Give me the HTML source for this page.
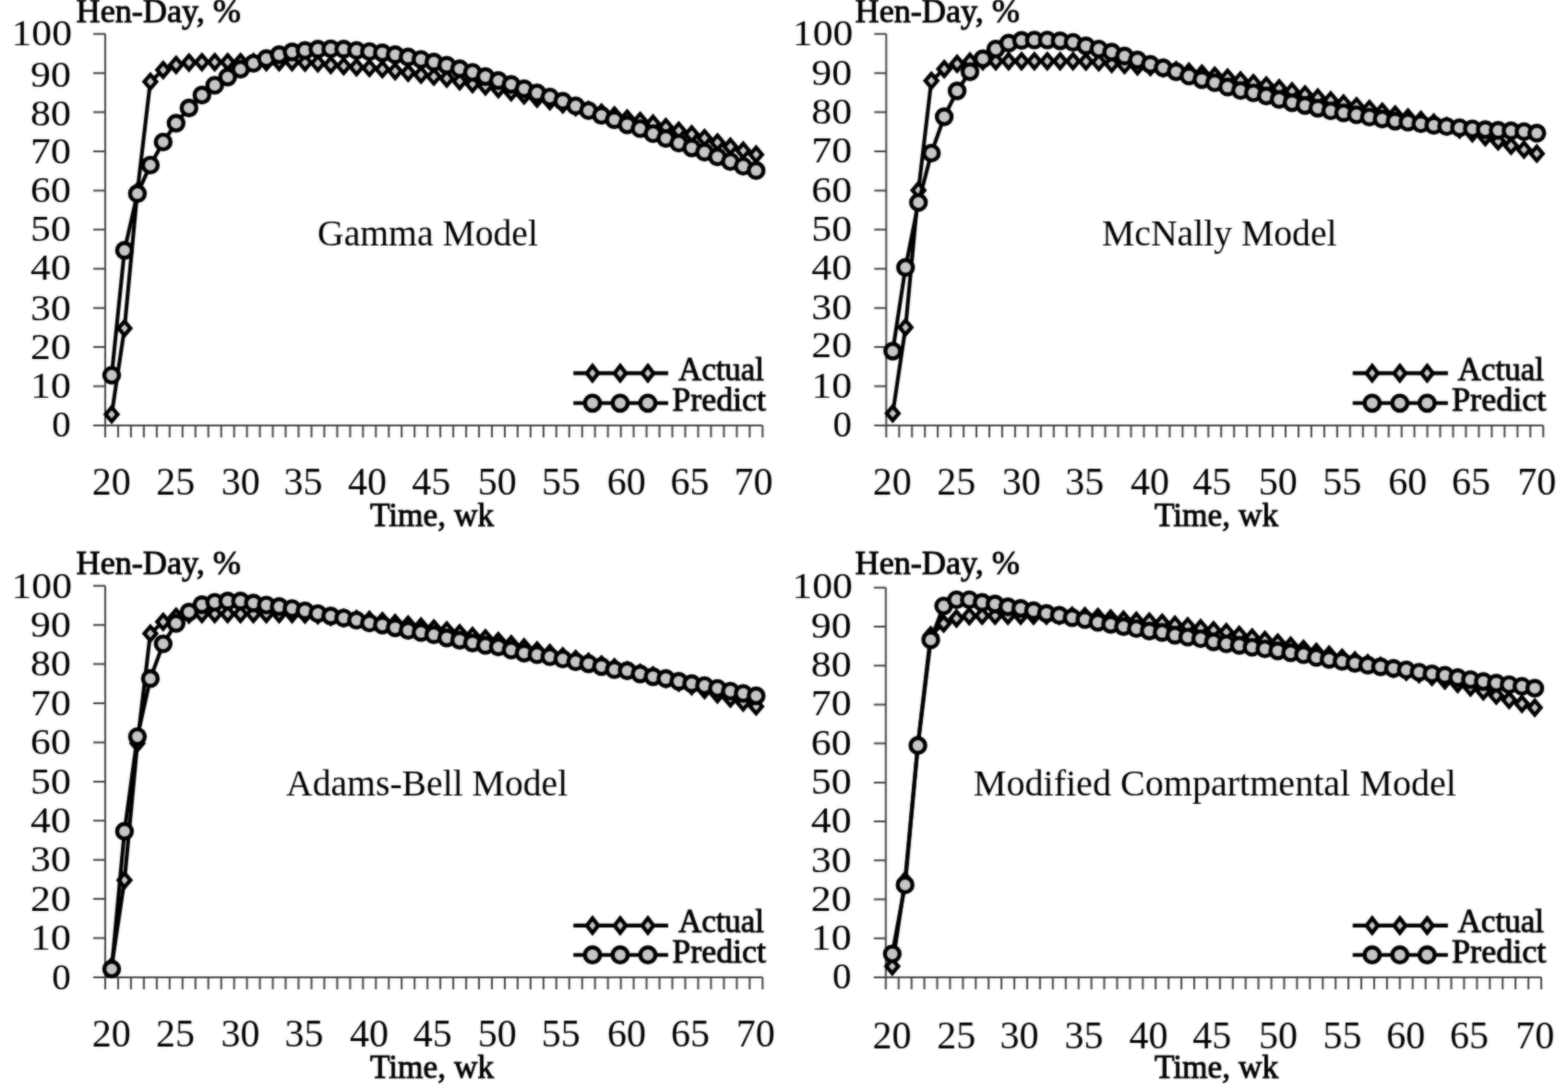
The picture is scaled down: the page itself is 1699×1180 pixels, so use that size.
<!DOCTYPE html>
<html lang="en">
<head>
<meta charset="utf-8">
<title>Hen-Day egg production: actual vs. predicted (Gamma, McNally, Adams-Bell, Modified Compartmental)</title>
<style>
html,body{margin:0;padding:0;background:#fff;}
body{width:1699px;height:1180px;overflow:hidden;}
svg{display:block;}
text{font-family:"Liberation Serif","Times New Roman",Times,serif;fill:#000;}
.n{fill:#000;}
.l{stroke:#000;stroke-width:0.9px;}
.t{fill:#000;}
.ax{fill:none;stroke:#444444;stroke-width:2px;}
.ln{fill:none;stroke:#000;stroke-width:4.1px;stroke-linejoin:round;}
.mk{fill:#c6c6c6;stroke:#000;stroke-width:4.4px;}
.dm{fill:#c6c6c6;stroke:#000;stroke-width:4.2px;}
</style>
</head>
<body>
<svg width="1699" height="1180" viewBox="0 0 1699 1180">
<defs><filter id="soft" x="0" y="0" width="100%" height="100%" filterUnits="userSpaceOnUse" color-interpolation-filters="sRGB"><feGaussianBlur in="SourceGraphic" stdDeviation="0.8" result="b"/><feComposite in="SourceGraphic" in2="b" operator="arithmetic" k1="0" k2="0.4" k3="0.6" k4="0"/></filter></defs>
<rect width="1699" height="1180" fill="#fff"/>
<g filter="url(#soft)">
<g id="chart1">
<path class="ax" d="M114 36.8L114 473.9M101 460.9L826.3 460.9M101 418.5L114 418.5M101 376.1L114 376.1M101 333.7L114 333.7M101 291.3L114 291.3M101 248.8L114 248.8M101 206.4L114 206.4M101 164L114 164M101 121.6L114 121.6M101 79.2L114 79.2M101 36.8L114 36.8M128 460.9L128 473.9M141.9 460.9L141.9 473.9M155.9 460.9L155.9 473.9M169.9 460.9L169.9 473.9M183.8 460.9L183.8 473.9M197.8 460.9L197.8 473.9M211.8 460.9L211.8 473.9M225.7 460.9L225.7 473.9M239.7 460.9L239.7 473.9M253.7 460.9L253.7 473.9M267.6 460.9L267.6 473.9M281.6 460.9L281.6 473.9M295.6 460.9L295.6 473.9M309.5 460.9L309.5 473.9M323.5 460.9L323.5 473.9M337.5 460.9L337.5 473.9M351.4 460.9L351.4 473.9M365.4 460.9L365.4 473.9M379.4 460.9L379.4 473.9M393.3 460.9L393.3 473.9M407.3 460.9L407.3 473.9M421.3 460.9L421.3 473.9M435.2 460.9L435.2 473.9M449.2 460.9L449.2 473.9M463.2 460.9L463.2 473.9M477.1 460.9L477.1 473.9M491.1 460.9L491.1 473.9M505.1 460.9L505.1 473.9M519 460.9L519 473.9M533 460.9L533 473.9M547 460.9L547 473.9M560.9 460.9L560.9 473.9M574.9 460.9L574.9 473.9M588.9 460.9L588.9 473.9M602.8 460.9L602.8 473.9M616.8 460.9L616.8 473.9M630.8 460.9L630.8 473.9M644.7 460.9L644.7 473.9M658.7 460.9L658.7 473.9M672.7 460.9L672.7 473.9M686.6 460.9L686.6 473.9M700.6 460.9L700.6 473.9M714.6 460.9L714.6 473.9M728.5 460.9L728.5 473.9M742.5 460.9L742.5 473.9M756.5 460.9L756.5 473.9M770.4 460.9L770.4 473.9M784.4 460.9L784.4 473.9M798.4 460.9L798.4 473.9M812.3 460.9L812.3 473.9M826.3 460.9L826.3 473.9"/>
<text x="56.3" y="473.3" font-size="41" textLength="20.5" lengthAdjust="spacingAndGlyphs" class="n">0</text>
<text x="33" y="430.9" font-size="41" textLength="43.8" lengthAdjust="spacingAndGlyphs" class="n">10</text>
<text x="33" y="388.8" font-size="41" textLength="43.8" lengthAdjust="spacingAndGlyphs" class="n">20</text>
<text x="33" y="346.5" font-size="41" textLength="43.8" lengthAdjust="spacingAndGlyphs" class="n">30</text>
<text x="33" y="303.4" font-size="41" textLength="43.8" lengthAdjust="spacingAndGlyphs" class="n">40</text>
<text x="33" y="261.2" font-size="41" textLength="43.8" lengthAdjust="spacingAndGlyphs" class="n">50</text>
<text x="33" y="219" font-size="41" textLength="43.8" lengthAdjust="spacingAndGlyphs" class="n">60</text>
<text x="33" y="176.7" font-size="41" textLength="43.8" lengthAdjust="spacingAndGlyphs" class="n">70</text>
<text x="33" y="136.4" font-size="41" textLength="43.8" lengthAdjust="spacingAndGlyphs" class="n">80</text>
<text x="33" y="94.1" font-size="41" textLength="43.8" lengthAdjust="spacingAndGlyphs" class="n">90</text>
<text x="12.5" y="49.2" font-size="41" textLength="65.5" lengthAdjust="spacingAndGlyphs" class="n">100</text>
<text x="99.8" y="535.8" font-size="42.5" textLength="42" lengthAdjust="spacingAndGlyphs" class="n">20</text>
<text x="169.3" y="535.8" font-size="42.5" textLength="42" lengthAdjust="spacingAndGlyphs" class="n">25</text>
<text x="239.8" y="535.8" font-size="42.5" textLength="42" lengthAdjust="spacingAndGlyphs" class="n">30</text>
<text x="307.5" y="535.8" font-size="42.5" textLength="42" lengthAdjust="spacingAndGlyphs" class="n">35</text>
<text x="377" y="535.8" font-size="42.5" textLength="42" lengthAdjust="spacingAndGlyphs" class="n">40</text>
<text x="446.2" y="535.8" font-size="42.5" textLength="42" lengthAdjust="spacingAndGlyphs" class="n">45</text>
<text x="517.7" y="535.8" font-size="42.5" textLength="42" lengthAdjust="spacingAndGlyphs" class="n">50</text>
<text x="586.9" y="535.8" font-size="42.5" textLength="42" lengthAdjust="spacingAndGlyphs" class="n">55</text>
<text x="657.8" y="535.8" font-size="42.5" textLength="42" lengthAdjust="spacingAndGlyphs" class="n">60</text>
<text x="726.5" y="535.8" font-size="42.5" textLength="42" lengthAdjust="spacingAndGlyphs" class="n">65</text>
<text x="795.5" y="535.8" font-size="42.5" textLength="42" lengthAdjust="spacingAndGlyphs" class="n">70</text>
<text x="82.5" y="23.5" font-size="35.5" textLength="178.5" lengthAdjust="spacingAndGlyphs" class="l">Hen-Day, %</text>
<text x="400.9" y="569.5" font-size="35.5" textLength="134.2" lengthAdjust="spacingAndGlyphs" class="l">Time, wk</text>
<text x="344" y="265.6" font-size="41" textLength="239" lengthAdjust="spacingAndGlyphs" class="t">Gamma Model</text>
<polyline class="ln" points="121,449 134.9,355.7 148.9,207.3 162.9,88.5 176.8,75.8 190.8,70.3 204.8,67.8 218.8,67.3 232.7,67.3 246.7,67.3 260.6,67.3 274.6,67.3 288.6,67.3 302.5,67.3 316.5,67.3 330.5,67.8 344.4,68.6 358.4,70.3 372.4,71.6 386.3,72.8 400.3,73.7 414.3,75 428.2,77.1 442.2,78.8 456.2,80.9 470.1,83 484.1,85.1 498.1,88.1 512,91.1 526,93.6 540,96.6 553.9,100 567.9,103.4 581.9,106.8 595.8,109.7 609.8,113.1 623.8,116.1 637.7,119.1 651.7,122 665.7,125 679.6,128.4 693.6,131 707.6,133.9 721.5,137.7 735.5,141.6 749.5,145.4 763.4,149.6 777.4,154.3 791.4,158.9 805.3,163.2 819.3,167.4"/>
<g class="dm"><path d="M121 441.4L127.5 449L121 456.6L114.5 449Z"/><path d="M134.9 348.1L141.4 355.7L134.9 363.3L128.4 355.7Z"/><path d="M148.9 199.7L155.4 207.3L148.9 214.9L142.4 207.3Z"/><path d="M162.9 80.9L169.4 88.5L162.9 96.1L156.4 88.5Z"/><path d="M176.8 68.2L183.3 75.8L176.8 83.4L170.3 75.8Z"/><path d="M190.8 62.7L197.3 70.3L190.8 77.9L184.3 70.3Z"/><path d="M204.8 60.2L211.3 67.8L204.8 75.4L198.3 67.8Z"/><path d="M218.8 59.7L225.2 67.3L218.8 74.9L212.2 67.3Z"/><path d="M232.7 59.7L239.2 67.3L232.7 74.9L226.2 67.3Z"/><path d="M246.7 59.7L253.2 67.3L246.7 74.9L240.2 67.3Z"/><path d="M260.6 59.7L267.1 67.3L260.6 74.9L254.1 67.3Z"/><path d="M274.6 59.7L281.1 67.3L274.6 74.9L268.1 67.3Z"/><path d="M288.6 59.7L295.1 67.3L288.6 74.9L282.1 67.3Z"/><path d="M302.5 59.7L309 67.3L302.5 74.9L296 67.3Z"/><path d="M316.5 59.7L323 67.3L316.5 74.9L310 67.3Z"/><path d="M330.5 60.2L337 67.8L330.5 75.4L324 67.8Z"/><path d="M344.4 61L350.9 68.6L344.4 76.2L337.9 68.6Z"/><path d="M358.4 62.7L364.9 70.3L358.4 77.9L351.9 70.3Z"/><path d="M372.4 64L378.9 71.6L372.4 79.2L365.9 71.6Z"/><path d="M386.3 65.2L392.8 72.8L386.3 80.4L379.8 72.8Z"/><path d="M400.3 66.1L406.8 73.7L400.3 81.3L393.8 73.7Z"/><path d="M414.3 67.4L420.8 75L414.3 82.6L407.8 75Z"/><path d="M428.2 69.5L434.7 77.1L428.2 84.7L421.7 77.1Z"/><path d="M442.2 71.2L448.7 78.8L442.2 86.4L435.7 78.8Z"/><path d="M456.2 73.3L462.7 80.9L456.2 88.5L449.7 80.9Z"/><path d="M470.1 75.4L476.6 83L470.1 90.6L463.6 83Z"/><path d="M484.1 77.5L490.6 85.1L484.1 92.7L477.6 85.1Z"/><path d="M498.1 80.5L504.6 88.1L498.1 95.7L491.6 88.1Z"/><path d="M512 83.5L518.5 91.1L512 98.7L505.5 91.1Z"/><path d="M526 86L532.5 93.6L526 101.2L519.5 93.6Z"/><path d="M540 89L546.5 96.6L540 104.2L533.5 96.6Z"/><path d="M553.9 92.4L560.4 100L553.9 107.6L547.4 100Z"/><path d="M567.9 95.8L574.4 103.4L567.9 111L561.4 103.4Z"/><path d="M581.9 99.2L588.4 106.8L581.9 114.4L575.4 106.8Z"/><path d="M595.8 102.1L602.3 109.7L595.8 117.3L589.3 109.7Z"/><path d="M609.8 105.5L616.3 113.1L609.8 120.7L603.3 113.1Z"/><path d="M623.8 108.5L630.3 116.1L623.8 123.7L617.3 116.1Z"/><path d="M637.7 111.5L644.2 119.1L637.7 126.7L631.2 119.1Z"/><path d="M651.7 114.4L658.2 122L651.7 129.6L645.2 122Z"/><path d="M665.7 117.4L672.2 125L665.7 132.6L659.2 125Z"/><path d="M679.6 120.8L686.1 128.4L679.6 136L673.1 128.4Z"/><path d="M693.6 123.4L700.1 131L693.6 138.6L687.1 131Z"/><path d="M707.6 126.3L714.1 133.9L707.6 141.5L701.1 133.9Z"/><path d="M721.5 130.1L728 137.7L721.5 145.3L715 137.7Z"/><path d="M735.5 134L742 141.6L735.5 149.2L729 141.6Z"/><path d="M749.5 137.8L756 145.4L749.5 153L743 145.4Z"/><path d="M763.4 142L769.9 149.6L763.4 157.2L756.9 149.6Z"/><path d="M777.4 146.7L783.9 154.3L777.4 161.9L770.9 154.3Z"/><path d="M791.4 151.3L797.9 158.9L791.4 166.5L784.9 158.9Z"/><path d="M805.3 155.6L811.8 163.2L805.3 170.8L798.8 163.2Z"/><path d="M819.3 159.8L825.8 167.4L819.3 175L812.8 167.4Z"/></g>
<polyline class="ln" points="121,406.6 134.9,271.3 148.9,209.8 162.9,178.9 176.8,153.9 190.8,133.5 204.8,117 218.8,103 232.7,92.4 246.7,83.5 260.6,75 274.6,68.6 288.6,63.5 302.5,59.3 316.5,56.3 330.5,54.6 344.4,53.3 358.4,52.9 372.4,53.3 386.3,54.6 400.3,55.9 414.3,57.2 428.2,59.3 442.2,61.8 456.2,64.4 470.1,67.3 484.1,70.7 498.1,74.5 512,78.4 526,83 540,87.3 553.9,91.5 567.9,96.2 581.9,100.8 595.8,105.1 609.8,109.7 623.8,114.8 637.7,119.9 651.7,125 665.7,129.7 679.6,135.2 693.6,139.4 707.6,144.9 721.5,150 735.5,155.1 749.5,160.2 763.4,164.9 777.4,170 791.4,175.1 805.3,180.1 819.3,184.8"/>
<g class="mk"><circle cx="121" cy="406.6" r="8"/><circle cx="134.9" cy="271.3" r="8"/><circle cx="148.9" cy="209.8" r="8"/><circle cx="162.9" cy="178.9" r="8"/><circle cx="176.8" cy="153.9" r="8"/><circle cx="190.8" cy="133.5" r="8"/><circle cx="204.8" cy="117" r="8"/><circle cx="218.8" cy="103" r="8"/><circle cx="232.7" cy="92.4" r="8"/><circle cx="246.7" cy="83.5" r="8"/><circle cx="260.6" cy="75" r="8"/><circle cx="274.6" cy="68.6" r="8"/><circle cx="288.6" cy="63.5" r="8"/><circle cx="302.5" cy="59.3" r="8"/><circle cx="316.5" cy="56.3" r="8"/><circle cx="330.5" cy="54.6" r="8"/><circle cx="344.4" cy="53.3" r="8"/><circle cx="358.4" cy="52.9" r="8"/><circle cx="372.4" cy="53.3" r="8"/><circle cx="386.3" cy="54.6" r="8"/><circle cx="400.3" cy="55.9" r="8"/><circle cx="414.3" cy="57.2" r="8"/><circle cx="428.2" cy="59.3" r="8"/><circle cx="442.2" cy="61.8" r="8"/><circle cx="456.2" cy="64.4" r="8"/><circle cx="470.1" cy="67.3" r="8"/><circle cx="484.1" cy="70.7" r="8"/><circle cx="498.1" cy="74.5" r="8"/><circle cx="512" cy="78.4" r="8"/><circle cx="526" cy="83" r="8"/><circle cx="540" cy="87.3" r="8"/><circle cx="553.9" cy="91.5" r="8"/><circle cx="567.9" cy="96.2" r="8"/><circle cx="581.9" cy="100.8" r="8"/><circle cx="595.8" cy="105.1" r="8"/><circle cx="609.8" cy="109.7" r="8"/><circle cx="623.8" cy="114.8" r="8"/><circle cx="637.7" cy="119.9" r="8"/><circle cx="651.7" cy="125" r="8"/><circle cx="665.7" cy="129.7" r="8"/><circle cx="679.6" cy="135.2" r="8"/><circle cx="693.6" cy="139.4" r="8"/><circle cx="707.6" cy="144.9" r="8"/><circle cx="721.5" cy="150" r="8"/><circle cx="735.5" cy="155.1" r="8"/><circle cx="749.5" cy="160.2" r="8"/><circle cx="763.4" cy="164.9" r="8"/><circle cx="777.4" cy="170" r="8"/><circle cx="791.4" cy="175.1" r="8"/><circle cx="805.3" cy="180.1" r="8"/><circle cx="819.3" cy="184.8" r="8"/></g>
<path class="ln" d="M621.3 404.4H724 M621.3 436.8H724"/>
<g class="dm"><path d="M642 396.4L648.2 404.4L642 412.4L635.8 404.4Z"/><path d="M672 396.4L678.2 404.4L672 412.4L665.8 404.4Z"/><path d="M702 396.4L708.2 404.4L702 412.4L695.8 404.4Z"/></g><g class="mk"><circle cx="642" cy="436.8" r="8.2"/><circle cx="672" cy="436.8" r="8.2"/><circle cx="702" cy="436.8" r="8.2"/></g>
<text x="735" y="411.5" font-size="35" textLength="93" lengthAdjust="spacingAndGlyphs" class="l">Actual</text>
<text x="728.3" y="445.2" font-size="35" textLength="101.7" lengthAdjust="spacingAndGlyphs" class="l">Predict</text>
</g>
<g id="chart2">
<path class="ax" d="M960.3 36.8L960.3 473.9M947.3 460.9L1672.2 460.9M947.3 418.5L960.3 418.5M947.3 376.1L960.3 376.1M947.3 333.7L960.3 333.7M947.3 291.3L960.3 291.3M947.3 248.8L960.3 248.8M947.3 206.4L960.3 206.4M947.3 164L960.3 164M947.3 121.6L960.3 121.6M947.3 79.2L960.3 79.2M947.3 36.8L960.3 36.8M974.3 460.9L974.3 473.9M988.2 460.9L988.2 473.9M1002.2 460.9L1002.2 473.9M1016.1 460.9L1016.1 473.9M1030.1 460.9L1030.1 473.9M1044.1 460.9L1044.1 473.9M1058 460.9L1058 473.9M1072 460.9L1072 473.9M1085.9 460.9L1085.9 473.9M1099.9 460.9L1099.9 473.9M1113.8 460.9L1113.8 473.9M1127.8 460.9L1127.8 473.9M1141.8 460.9L1141.8 473.9M1155.7 460.9L1155.7 473.9M1169.7 460.9L1169.7 473.9M1183.6 460.9L1183.6 473.9M1197.6 460.9L1197.6 473.9M1211.6 460.9L1211.6 473.9M1225.5 460.9L1225.5 473.9M1239.5 460.9L1239.5 473.9M1253.4 460.9L1253.4 473.9M1267.4 460.9L1267.4 473.9M1281.4 460.9L1281.4 473.9M1295.3 460.9L1295.3 473.9M1309.3 460.9L1309.3 473.9M1323.2 460.9L1323.2 473.9M1337.2 460.9L1337.2 473.9M1351.1 460.9L1351.1 473.9M1365.1 460.9L1365.1 473.9M1379.1 460.9L1379.1 473.9M1393 460.9L1393 473.9M1407 460.9L1407 473.9M1420.9 460.9L1420.9 473.9M1434.9 460.9L1434.9 473.9M1448.9 460.9L1448.9 473.9M1462.8 460.9L1462.8 473.9M1476.8 460.9L1476.8 473.9M1490.7 460.9L1490.7 473.9M1504.7 460.9L1504.7 473.9M1518.7 460.9L1518.7 473.9M1532.6 460.9L1532.6 473.9M1546.6 460.9L1546.6 473.9M1560.5 460.9L1560.5 473.9M1574.5 460.9L1574.5 473.9M1588.4 460.9L1588.4 473.9M1602.4 460.9L1602.4 473.9M1616.4 460.9L1616.4 473.9M1630.3 460.9L1630.3 473.9M1644.3 460.9L1644.3 473.9M1658.2 460.9L1658.2 473.9M1672.2 460.9L1672.2 473.9"/>
<text x="902.6" y="473.1" font-size="41" textLength="20.5" lengthAdjust="spacingAndGlyphs" class="n">0</text>
<text x="879.3" y="430.5" font-size="41" textLength="43.8" lengthAdjust="spacingAndGlyphs" class="n">10</text>
<text x="879.3" y="387.4" font-size="41" textLength="43.8" lengthAdjust="spacingAndGlyphs" class="n">20</text>
<text x="879.3" y="345.5" font-size="41" textLength="43.8" lengthAdjust="spacingAndGlyphs" class="n">30</text>
<text x="879.3" y="303.1" font-size="41" textLength="43.8" lengthAdjust="spacingAndGlyphs" class="n">40</text>
<text x="879.3" y="260.9" font-size="41" textLength="43.8" lengthAdjust="spacingAndGlyphs" class="n">50</text>
<text x="879.3" y="219.1" font-size="41" textLength="43.8" lengthAdjust="spacingAndGlyphs" class="n">60</text>
<text x="879.3" y="175.8" font-size="41" textLength="43.8" lengthAdjust="spacingAndGlyphs" class="n">70</text>
<text x="879.3" y="134.3" font-size="41" textLength="43.8" lengthAdjust="spacingAndGlyphs" class="n">80</text>
<text x="879.3" y="91.6" font-size="41" textLength="43.8" lengthAdjust="spacingAndGlyphs" class="n">90</text>
<text x="858.8" y="49" font-size="41" textLength="65.5" lengthAdjust="spacingAndGlyphs" class="n">100</text>
<text x="945.7" y="536" font-size="42.5" textLength="42" lengthAdjust="spacingAndGlyphs" class="n">20</text>
<text x="1015.3" y="536" font-size="42.5" textLength="42" lengthAdjust="spacingAndGlyphs" class="n">25</text>
<text x="1085.8" y="536" font-size="42.5" textLength="42" lengthAdjust="spacingAndGlyphs" class="n">30</text>
<text x="1154.2" y="536" font-size="42.5" textLength="42" lengthAdjust="spacingAndGlyphs" class="n">35</text>
<text x="1225" y="536" font-size="42.5" textLength="42" lengthAdjust="spacingAndGlyphs" class="n">40</text>
<text x="1292.2" y="536" font-size="42.5" textLength="42" lengthAdjust="spacingAndGlyphs" class="n">45</text>
<text x="1363.8" y="536" font-size="42.5" textLength="42" lengthAdjust="spacingAndGlyphs" class="n">50</text>
<text x="1433.3" y="536" font-size="42.5" textLength="42" lengthAdjust="spacingAndGlyphs" class="n">55</text>
<text x="1504.3" y="536" font-size="42.5" textLength="42" lengthAdjust="spacingAndGlyphs" class="n">60</text>
<text x="1573.1" y="536" font-size="42.5" textLength="42" lengthAdjust="spacingAndGlyphs" class="n">65</text>
<text x="1644.2" y="536" font-size="42.5" textLength="42" lengthAdjust="spacingAndGlyphs" class="n">70</text>
<text x="926.5" y="23.5" font-size="35.5" textLength="178.5" lengthAdjust="spacingAndGlyphs" class="l">Hen-Day, %</text>
<text x="1250.9" y="569.5" font-size="35.5" textLength="134.2" lengthAdjust="spacingAndGlyphs" class="l">Time, wk</text>
<text x="1194" y="265.6" font-size="41" textLength="254.6" lengthAdjust="spacingAndGlyphs" class="t">McNally Model</text>
<polyline class="ln" points="967.3,448 981.2,354.7 995.2,206.2 1009.2,87.5 1023.1,74.8 1037.1,69.2 1051,66.7 1065,66.3 1079,66.3 1092.9,66.3 1106.9,66.3 1120.8,66.3 1134.8,66.3 1148.7,66.3 1162.7,66.3 1176.7,66.7 1190.6,67.5 1204.6,69.2 1218.5,70.5 1232.5,71.8 1246.5,72.6 1260.4,73.9 1274.4,76 1288.3,77.7 1302.3,79.8 1316.2,82 1330.2,84.1 1344.2,87.1 1358.1,90 1372.1,92.6 1386,95.5 1400,98.9 1414,102.3 1427.9,105.7 1441.9,108.7 1455.8,112.1 1469.8,115 1483.8,118 1497.7,121 1511.7,124 1525.6,127.3 1539.6,129.9 1553.6,132.9 1567.5,136.7 1581.5,140.5 1595.4,144.3 1609.4,148.6 1623.3,153.2 1637.3,157.9 1651.3,162.1 1665.2,166.4"/>
<g class="dm"><path d="M967.3 440.4L973.8 448L967.3 455.6L960.8 448Z"/><path d="M981.2 347.1L987.7 354.7L981.2 362.3L974.7 354.7Z"/><path d="M995.2 198.6L1001.7 206.2L995.2 213.8L988.7 206.2Z"/><path d="M1009.2 79.9L1015.7 87.5L1009.2 95.1L1002.7 87.5Z"/><path d="M1023.1 67.2L1029.6 74.8L1023.1 82.4L1016.6 74.8Z"/><path d="M1037.1 61.6L1043.6 69.2L1037.1 76.8L1030.6 69.2Z"/><path d="M1051 59.1L1057.5 66.7L1051 74.3L1044.5 66.7Z"/><path d="M1065 58.7L1071.5 66.3L1065 73.9L1058.5 66.3Z"/><path d="M1079 58.7L1085.5 66.3L1079 73.9L1072.5 66.3Z"/><path d="M1092.9 58.7L1099.4 66.3L1092.9 73.9L1086.4 66.3Z"/><path d="M1106.9 58.7L1113.4 66.3L1106.9 73.9L1100.4 66.3Z"/><path d="M1120.8 58.7L1127.3 66.3L1120.8 73.9L1114.3 66.3Z"/><path d="M1134.8 58.7L1141.3 66.3L1134.8 73.9L1128.3 66.3Z"/><path d="M1148.7 58.7L1155.2 66.3L1148.7 73.9L1142.2 66.3Z"/><path d="M1162.7 58.7L1169.2 66.3L1162.7 73.9L1156.2 66.3Z"/><path d="M1176.7 59.1L1183.2 66.7L1176.7 74.3L1170.2 66.7Z"/><path d="M1190.6 59.9L1197.1 67.5L1190.6 75.1L1184.1 67.5Z"/><path d="M1204.6 61.6L1211.1 69.2L1204.6 76.8L1198.1 69.2Z"/><path d="M1218.5 62.9L1225 70.5L1218.5 78.1L1212 70.5Z"/><path d="M1232.5 64.2L1239 71.8L1232.5 79.4L1226 71.8Z"/><path d="M1246.5 65L1253 72.6L1246.5 80.2L1240 72.6Z"/><path d="M1260.4 66.3L1266.9 73.9L1260.4 81.5L1253.9 73.9Z"/><path d="M1274.4 68.4L1280.9 76L1274.4 83.6L1267.9 76Z"/><path d="M1288.3 70.1L1294.8 77.7L1288.3 85.3L1281.8 77.7Z"/><path d="M1302.3 72.2L1308.8 79.8L1302.3 87.4L1295.8 79.8Z"/><path d="M1316.2 74.4L1322.8 82L1316.2 89.6L1309.8 82Z"/><path d="M1330.2 76.5L1336.7 84.1L1330.2 91.7L1323.7 84.1Z"/><path d="M1344.2 79.5L1350.7 87.1L1344.2 94.7L1337.7 87.1Z"/><path d="M1358.1 82.4L1364.6 90L1358.1 97.6L1351.6 90Z"/><path d="M1372.1 85L1378.6 92.6L1372.1 100.2L1365.6 92.6Z"/><path d="M1386 87.9L1392.5 95.5L1386 103.1L1379.5 95.5Z"/><path d="M1400 91.3L1406.5 98.9L1400 106.5L1393.5 98.9Z"/><path d="M1414 94.7L1420.5 102.3L1414 109.9L1407.5 102.3Z"/><path d="M1427.9 98.1L1434.4 105.7L1427.9 113.3L1421.4 105.7Z"/><path d="M1441.9 101.1L1448.4 108.7L1441.9 116.3L1435.4 108.7Z"/><path d="M1455.8 104.5L1462.3 112.1L1455.8 119.7L1449.3 112.1Z"/><path d="M1469.8 107.4L1476.3 115L1469.8 122.6L1463.3 115Z"/><path d="M1483.8 110.4L1490.3 118L1483.8 125.6L1477.3 118Z"/><path d="M1497.7 113.4L1504.2 121L1497.7 128.6L1491.2 121Z"/><path d="M1511.7 116.4L1518.2 124L1511.7 131.6L1505.2 124Z"/><path d="M1525.6 119.7L1532.1 127.3L1525.6 134.9L1519.1 127.3Z"/><path d="M1539.6 122.3L1546.1 129.9L1539.6 137.5L1533.1 129.9Z"/><path d="M1553.6 125.3L1560.1 132.9L1553.6 140.5L1547.1 132.9Z"/><path d="M1567.5 129.1L1574 136.7L1567.5 144.3L1561 136.7Z"/><path d="M1581.5 132.9L1588 140.5L1581.5 148.1L1575 140.5Z"/><path d="M1595.4 136.7L1601.9 144.3L1595.4 151.9L1588.9 144.3Z"/><path d="M1609.4 141L1615.9 148.6L1609.4 156.2L1602.9 148.6Z"/><path d="M1623.3 145.6L1629.8 153.2L1623.3 160.8L1616.8 153.2Z"/><path d="M1637.3 150.3L1643.8 157.9L1637.3 165.5L1630.8 157.9Z"/><path d="M1651.3 154.5L1657.8 162.1L1651.3 169.7L1644.8 162.1Z"/><path d="M1665.2 158.8L1671.7 166.4L1665.2 174L1658.7 166.4Z"/></g>
<polyline class="ln" points="967.3,380.5 981.2,289.8 995.2,219.4 1009.2,165.9 1023.1,126.5 1037.1,98.5 1051,77.7 1065,63.7 1079,53.1 1092.9,46.8 1106.9,43.8 1120.8,43.4 1134.8,43.4 1148.7,44.2 1162.7,45.9 1176.7,49.7 1190.6,53.1 1204.6,56.5 1218.5,60.8 1232.5,65 1246.5,69.7 1260.4,73.5 1274.4,77.7 1288.3,82.4 1302.3,86.2 1316.2,89.6 1330.2,94.3 1344.2,98.1 1358.1,100.6 1372.1,104 1386,107.8 1400,111.2 1414,114.2 1427.9,117.2 1441.9,120.1 1455.8,122.3 1469.8,124.4 1483.8,126.9 1497.7,129 1511.7,131.2 1525.6,132.4 1539.6,134.1 1553.6,135.8 1567.5,137.1 1581.5,138.4 1595.4,139.6 1609.4,140.5 1623.3,141.3 1637.3,141.8 1651.3,142.6 1665.2,144.3"/>
<g class="mk"><circle cx="967.3" cy="380.5" r="8"/><circle cx="981.2" cy="289.8" r="8"/><circle cx="995.2" cy="219.4" r="8"/><circle cx="1009.2" cy="165.9" r="8"/><circle cx="1023.1" cy="126.5" r="8"/><circle cx="1037.1" cy="98.5" r="8"/><circle cx="1051" cy="77.7" r="8"/><circle cx="1065" cy="63.7" r="8"/><circle cx="1079" cy="53.1" r="8"/><circle cx="1092.9" cy="46.8" r="8"/><circle cx="1106.9" cy="43.8" r="8"/><circle cx="1120.8" cy="43.4" r="8"/><circle cx="1134.8" cy="43.4" r="8"/><circle cx="1148.7" cy="44.2" r="8"/><circle cx="1162.7" cy="45.9" r="8"/><circle cx="1176.7" cy="49.7" r="8"/><circle cx="1190.6" cy="53.1" r="8"/><circle cx="1204.6" cy="56.5" r="8"/><circle cx="1218.5" cy="60.8" r="8"/><circle cx="1232.5" cy="65" r="8"/><circle cx="1246.5" cy="69.7" r="8"/><circle cx="1260.4" cy="73.5" r="8"/><circle cx="1274.4" cy="77.7" r="8"/><circle cx="1288.3" cy="82.4" r="8"/><circle cx="1302.3" cy="86.2" r="8"/><circle cx="1316.2" cy="89.6" r="8"/><circle cx="1330.2" cy="94.3" r="8"/><circle cx="1344.2" cy="98.1" r="8"/><circle cx="1358.1" cy="100.6" r="8"/><circle cx="1372.1" cy="104" r="8"/><circle cx="1386" cy="107.8" r="8"/><circle cx="1400" cy="111.2" r="8"/><circle cx="1414" cy="114.2" r="8"/><circle cx="1427.9" cy="117.2" r="8"/><circle cx="1441.9" cy="120.1" r="8"/><circle cx="1455.8" cy="122.3" r="8"/><circle cx="1469.8" cy="124.4" r="8"/><circle cx="1483.8" cy="126.9" r="8"/><circle cx="1497.7" cy="129" r="8"/><circle cx="1511.7" cy="131.2" r="8"/><circle cx="1525.6" cy="132.4" r="8"/><circle cx="1539.6" cy="134.1" r="8"/><circle cx="1553.6" cy="135.8" r="8"/><circle cx="1567.5" cy="137.1" r="8"/><circle cx="1581.5" cy="138.4" r="8"/><circle cx="1595.4" cy="139.6" r="8"/><circle cx="1609.4" cy="140.5" r="8"/><circle cx="1623.3" cy="141.3" r="8"/><circle cx="1637.3" cy="141.8" r="8"/><circle cx="1651.3" cy="142.6" r="8"/><circle cx="1665.2" cy="144.3" r="8"/></g>
<path class="ln" d="M1465.7 404.4H1568.9 M1465.7 436.8H1568.9"/>
<g class="dm"><path d="M1486.8 396.4L1493 404.4L1486.8 412.4L1480.6 404.4Z"/><path d="M1516.8 396.4L1523 404.4L1516.8 412.4L1510.6 404.4Z"/><path d="M1546.4 396.4L1552.6 404.4L1546.4 412.4L1540.2 404.4Z"/></g><g class="mk"><circle cx="1486.8" cy="436.8" r="8.2"/><circle cx="1516.8" cy="436.8" r="8.2"/><circle cx="1546.4" cy="436.8" r="8.2"/></g>
<text x="1579.5" y="411.5" font-size="35" textLength="93.5" lengthAdjust="spacingAndGlyphs" class="l">Actual</text>
<text x="1573" y="445.2" font-size="35" textLength="102.4" lengthAdjust="spacingAndGlyphs" class="l">Predict</text>
</g>
<g id="chart3">
<path class="ax" d="M114 634.8L114 1071.9M101 1058.9L826.3 1058.9M101 1016.5L114 1016.5M101 974.1L114 974.1M101 931.7L114 931.7M101 889.3L114 889.3M101 846.9L114 846.9M101 804.4L114 804.4M101 762L114 762M101 719.6L114 719.6M101 677.2L114 677.2M101 634.8L114 634.8M128 1058.9L128 1071.9M141.9 1058.9L141.9 1071.9M155.9 1058.9L155.9 1071.9M169.9 1058.9L169.9 1071.9M183.8 1058.9L183.8 1071.9M197.8 1058.9L197.8 1071.9M211.8 1058.9L211.8 1071.9M225.7 1058.9L225.7 1071.9M239.7 1058.9L239.7 1071.9M253.7 1058.9L253.7 1071.9M267.6 1058.9L267.6 1071.9M281.6 1058.9L281.6 1071.9M295.6 1058.9L295.6 1071.9M309.5 1058.9L309.5 1071.9M323.5 1058.9L323.5 1071.9M337.5 1058.9L337.5 1071.9M351.4 1058.9L351.4 1071.9M365.4 1058.9L365.4 1071.9M379.4 1058.9L379.4 1071.9M393.3 1058.9L393.3 1071.9M407.3 1058.9L407.3 1071.9M421.3 1058.9L421.3 1071.9M435.2 1058.9L435.2 1071.9M449.2 1058.9L449.2 1071.9M463.2 1058.9L463.2 1071.9M477.1 1058.9L477.1 1071.9M491.1 1058.9L491.1 1071.9M505.1 1058.9L505.1 1071.9M519 1058.9L519 1071.9M533 1058.9L533 1071.9M547 1058.9L547 1071.9M560.9 1058.9L560.9 1071.9M574.9 1058.9L574.9 1071.9M588.9 1058.9L588.9 1071.9M602.8 1058.9L602.8 1071.9M616.8 1058.9L616.8 1071.9M630.8 1058.9L630.8 1071.9M644.7 1058.9L644.7 1071.9M658.7 1058.9L658.7 1071.9M672.7 1058.9L672.7 1071.9M686.6 1058.9L686.6 1071.9M700.6 1058.9L700.6 1071.9M714.6 1058.9L714.6 1071.9M728.5 1058.9L728.5 1071.9M742.5 1058.9L742.5 1071.9M756.5 1058.9L756.5 1071.9M770.4 1058.9L770.4 1071.9M784.4 1058.9L784.4 1071.9M798.4 1058.9L798.4 1071.9M812.3 1058.9L812.3 1071.9M826.3 1058.9L826.3 1071.9"/>
<text x="56.3" y="1071.6" font-size="41" textLength="20.5" lengthAdjust="spacingAndGlyphs" class="n">0</text>
<text x="33" y="1029.2" font-size="41" textLength="43.8" lengthAdjust="spacingAndGlyphs" class="n">10</text>
<text x="33" y="986.8" font-size="41" textLength="43.8" lengthAdjust="spacingAndGlyphs" class="n">20</text>
<text x="33" y="944.4" font-size="41" textLength="43.8" lengthAdjust="spacingAndGlyphs" class="n">30</text>
<text x="33" y="902" font-size="41" textLength="43.8" lengthAdjust="spacingAndGlyphs" class="n">40</text>
<text x="33" y="859.6" font-size="41" textLength="43.8" lengthAdjust="spacingAndGlyphs" class="n">50</text>
<text x="33" y="817.1" font-size="41" textLength="43.8" lengthAdjust="spacingAndGlyphs" class="n">60</text>
<text x="33" y="774.7" font-size="41" textLength="43.8" lengthAdjust="spacingAndGlyphs" class="n">70</text>
<text x="33" y="732.3" font-size="41" textLength="43.8" lengthAdjust="spacingAndGlyphs" class="n">80</text>
<text x="33" y="689.9" font-size="41" textLength="43.8" lengthAdjust="spacingAndGlyphs" class="n">90</text>
<text x="12.5" y="647.5" font-size="41" textLength="65.5" lengthAdjust="spacingAndGlyphs" class="n">100</text>
<text x="99.8" y="1133.8" font-size="42.5" textLength="42" lengthAdjust="spacingAndGlyphs" class="n">20</text>
<text x="169.1" y="1133.8" font-size="42.5" textLength="42" lengthAdjust="spacingAndGlyphs" class="n">25</text>
<text x="239.6" y="1133.8" font-size="42.5" textLength="42" lengthAdjust="spacingAndGlyphs" class="n">30</text>
<text x="308.5" y="1133.8" font-size="42.5" textLength="42" lengthAdjust="spacingAndGlyphs" class="n">35</text>
<text x="379" y="1133.8" font-size="42.5" textLength="42" lengthAdjust="spacingAndGlyphs" class="n">40</text>
<text x="447.8" y="1133.8" font-size="42.5" textLength="42" lengthAdjust="spacingAndGlyphs" class="n">45</text>
<text x="517.8" y="1133.8" font-size="42.5" textLength="42" lengthAdjust="spacingAndGlyphs" class="n">50</text>
<text x="586.8" y="1133.8" font-size="42.5" textLength="42" lengthAdjust="spacingAndGlyphs" class="n">55</text>
<text x="658.1" y="1133.8" font-size="42.5" textLength="42" lengthAdjust="spacingAndGlyphs" class="n">60</text>
<text x="727.1" y="1133.8" font-size="42.5" textLength="42" lengthAdjust="spacingAndGlyphs" class="n">65</text>
<text x="797.7" y="1133.8" font-size="42.5" textLength="42" lengthAdjust="spacingAndGlyphs" class="n">70</text>
<text x="82.5" y="621.5" font-size="35.5" textLength="178.5" lengthAdjust="spacingAndGlyphs" class="l">Hen-Day, %</text>
<text x="400.9" y="1167.5" font-size="35.5" textLength="134.2" lengthAdjust="spacingAndGlyphs" class="l">Time, wk</text>
<text x="310" y="862" font-size="41" textLength="305.2" lengthAdjust="spacingAndGlyphs" class="t">Adams-Bell Model</text>
<polyline class="ln" points="121,1047 134.9,953.7 148.9,805.3 162.9,686.5 176.8,673.8 190.8,668.3 204.8,665.8 218.8,665.3 232.7,665.3 246.7,665.3 260.6,665.3 274.6,665.3 288.6,665.3 302.5,665.3 316.5,665.3 330.5,665.8 344.4,666.6 358.4,668.3 372.4,669.6 386.3,670.8 400.3,671.7 414.3,673 428.2,675.1 442.2,676.8 456.2,678.9 470.1,681 484.1,683.1 498.1,686.1 512,689.1 526,691.6 540,694.6 553.9,698 567.9,701.4 581.9,704.8 595.8,707.7 609.8,711.1 623.8,714.1 637.7,717.1 651.7,720 665.7,723 679.6,726.4 693.6,729 707.6,731.9 721.5,735.7 735.5,739.6 749.5,743.4 763.4,747.6 777.4,752.3 791.4,756.9 805.3,761.2 819.3,765.4"/>
<g class="dm"><path d="M121 1039.4L127.5 1047L121 1054.6L114.5 1047Z"/><path d="M134.9 946.1L141.4 953.7L134.9 961.3L128.4 953.7Z"/><path d="M148.9 797.7L155.4 805.3L148.9 812.9L142.4 805.3Z"/><path d="M162.9 678.9L169.4 686.5L162.9 694.1L156.4 686.5Z"/><path d="M176.8 666.2L183.3 673.8L176.8 681.4L170.3 673.8Z"/><path d="M190.8 660.7L197.3 668.3L190.8 675.9L184.3 668.3Z"/><path d="M204.8 658.2L211.3 665.8L204.8 673.4L198.3 665.8Z"/><path d="M218.8 657.7L225.2 665.3L218.8 672.9L212.2 665.3Z"/><path d="M232.7 657.7L239.2 665.3L232.7 672.9L226.2 665.3Z"/><path d="M246.7 657.7L253.2 665.3L246.7 672.9L240.2 665.3Z"/><path d="M260.6 657.7L267.1 665.3L260.6 672.9L254.1 665.3Z"/><path d="M274.6 657.7L281.1 665.3L274.6 672.9L268.1 665.3Z"/><path d="M288.6 657.7L295.1 665.3L288.6 672.9L282.1 665.3Z"/><path d="M302.5 657.7L309 665.3L302.5 672.9L296 665.3Z"/><path d="M316.5 657.7L323 665.3L316.5 672.9L310 665.3Z"/><path d="M330.5 658.2L337 665.8L330.5 673.4L324 665.8Z"/><path d="M344.4 659L350.9 666.6L344.4 674.2L337.9 666.6Z"/><path d="M358.4 660.7L364.9 668.3L358.4 675.9L351.9 668.3Z"/><path d="M372.4 662L378.9 669.6L372.4 677.2L365.9 669.6Z"/><path d="M386.3 663.2L392.8 670.8L386.3 678.4L379.8 670.8Z"/><path d="M400.3 664.1L406.8 671.7L400.3 679.3L393.8 671.7Z"/><path d="M414.3 665.4L420.8 673L414.3 680.6L407.8 673Z"/><path d="M428.2 667.5L434.7 675.1L428.2 682.7L421.7 675.1Z"/><path d="M442.2 669.2L448.7 676.8L442.2 684.4L435.7 676.8Z"/><path d="M456.2 671.3L462.7 678.9L456.2 686.5L449.7 678.9Z"/><path d="M470.1 673.4L476.6 681L470.1 688.6L463.6 681Z"/><path d="M484.1 675.5L490.6 683.1L484.1 690.7L477.6 683.1Z"/><path d="M498.1 678.5L504.6 686.1L498.1 693.7L491.6 686.1Z"/><path d="M512 681.5L518.5 689.1L512 696.7L505.5 689.1Z"/><path d="M526 684L532.5 691.6L526 699.2L519.5 691.6Z"/><path d="M540 687L546.5 694.6L540 702.2L533.5 694.6Z"/><path d="M553.9 690.4L560.4 698L553.9 705.6L547.4 698Z"/><path d="M567.9 693.8L574.4 701.4L567.9 709L561.4 701.4Z"/><path d="M581.9 697.2L588.4 704.8L581.9 712.4L575.4 704.8Z"/><path d="M595.8 700.1L602.3 707.7L595.8 715.3L589.3 707.7Z"/><path d="M609.8 703.5L616.3 711.1L609.8 718.7L603.3 711.1Z"/><path d="M623.8 706.5L630.3 714.1L623.8 721.7L617.3 714.1Z"/><path d="M637.7 709.5L644.2 717.1L637.7 724.7L631.2 717.1Z"/><path d="M651.7 712.4L658.2 720L651.7 727.6L645.2 720Z"/><path d="M665.7 715.4L672.2 723L665.7 730.6L659.2 723Z"/><path d="M679.6 718.8L686.1 726.4L679.6 734L673.1 726.4Z"/><path d="M693.6 721.4L700.1 729L693.6 736.6L687.1 729Z"/><path d="M707.6 724.3L714.1 731.9L707.6 739.5L701.1 731.9Z"/><path d="M721.5 728.1L728 735.7L721.5 743.3L715 735.7Z"/><path d="M735.5 732L742 739.6L735.5 747.2L729 739.6Z"/><path d="M749.5 735.8L756 743.4L749.5 751L743 743.4Z"/><path d="M763.4 740L769.9 747.6L763.4 755.2L756.9 747.6Z"/><path d="M777.4 744.7L783.9 752.3L777.4 759.9L770.9 752.3Z"/><path d="M791.4 749.3L797.9 756.9L791.4 764.5L784.9 756.9Z"/><path d="M805.3 753.6L811.8 761.2L805.3 768.8L798.8 761.2Z"/><path d="M819.3 757.8L825.8 765.4L819.3 773L812.8 765.4Z"/></g>
<polyline class="ln" points="121,1050 134.9,900.7 148.9,798.1 162.9,735.3 176.8,697.6 190.8,675.5 204.8,663.2 218.8,655.2 232.7,652.6 246.7,651.3 260.6,651.3 274.6,653.5 288.6,655.6 302.5,657.3 316.5,659.4 330.5,661.9 344.4,664.9 358.4,667.5 372.4,669.6 386.3,672.1 400.3,675.1 414.3,677.2 428.2,680.2 442.2,683.1 456.2,685.3 470.1,687.8 484.1,691.2 498.1,693.7 512,696.7 526,699.3 540,701 553.9,704.4 567.9,707.7 581.9,709.4 595.8,711.6 609.8,714.1 623.8,717.1 637.7,719.2 651.7,722.2 665.7,725.6 679.6,726.8 693.6,730.2 707.6,733.2 721.5,735.3 735.5,738.3 749.5,740.8 763.4,742.9 777.4,745.9 791.4,748.9 805.3,751.4 819.3,754"/>
<g class="mk"><circle cx="121" cy="1050" r="8"/><circle cx="134.9" cy="900.7" r="8"/><circle cx="148.9" cy="798.1" r="8"/><circle cx="162.9" cy="735.3" r="8"/><circle cx="176.8" cy="697.6" r="8"/><circle cx="190.8" cy="675.5" r="8"/><circle cx="204.8" cy="663.2" r="8"/><circle cx="218.8" cy="655.2" r="8"/><circle cx="232.7" cy="652.6" r="8"/><circle cx="246.7" cy="651.3" r="8"/><circle cx="260.6" cy="651.3" r="8"/><circle cx="274.6" cy="653.5" r="8"/><circle cx="288.6" cy="655.6" r="8"/><circle cx="302.5" cy="657.3" r="8"/><circle cx="316.5" cy="659.4" r="8"/><circle cx="330.5" cy="661.9" r="8"/><circle cx="344.4" cy="664.9" r="8"/><circle cx="358.4" cy="667.5" r="8"/><circle cx="372.4" cy="669.6" r="8"/><circle cx="386.3" cy="672.1" r="8"/><circle cx="400.3" cy="675.1" r="8"/><circle cx="414.3" cy="677.2" r="8"/><circle cx="428.2" cy="680.2" r="8"/><circle cx="442.2" cy="683.1" r="8"/><circle cx="456.2" cy="685.3" r="8"/><circle cx="470.1" cy="687.8" r="8"/><circle cx="484.1" cy="691.2" r="8"/><circle cx="498.1" cy="693.7" r="8"/><circle cx="512" cy="696.7" r="8"/><circle cx="526" cy="699.3" r="8"/><circle cx="540" cy="701" r="8"/><circle cx="553.9" cy="704.4" r="8"/><circle cx="567.9" cy="707.7" r="8"/><circle cx="581.9" cy="709.4" r="8"/><circle cx="595.8" cy="711.6" r="8"/><circle cx="609.8" cy="714.1" r="8"/><circle cx="623.8" cy="717.1" r="8"/><circle cx="637.7" cy="719.2" r="8"/><circle cx="651.7" cy="722.2" r="8"/><circle cx="665.7" cy="725.6" r="8"/><circle cx="679.6" cy="726.8" r="8"/><circle cx="693.6" cy="730.2" r="8"/><circle cx="707.6" cy="733.2" r="8"/><circle cx="721.5" cy="735.3" r="8"/><circle cx="735.5" cy="738.3" r="8"/><circle cx="749.5" cy="740.8" r="8"/><circle cx="763.4" cy="742.9" r="8"/><circle cx="777.4" cy="745.9" r="8"/><circle cx="791.4" cy="748.9" r="8"/><circle cx="805.3" cy="751.4" r="8"/><circle cx="819.3" cy="754" r="8"/></g>
<path class="ln" d="M621.3 1002.9H724 M621.3 1034.7H724"/>
<g class="dm"><path d="M642 994.9L648.2 1002.9L642 1010.9L635.8 1002.9Z"/><path d="M672 994.9L678.2 1002.9L672 1010.9L665.8 1002.9Z"/><path d="M702 994.9L708.2 1002.9L702 1010.9L695.8 1002.9Z"/></g><g class="mk"><circle cx="642" cy="1034.7" r="8.2"/><circle cx="672" cy="1034.7" r="8.2"/><circle cx="702" cy="1034.7" r="8.2"/></g>
<text x="735" y="1010" font-size="35" textLength="93" lengthAdjust="spacingAndGlyphs" class="l">Actual</text>
<text x="728.3" y="1043.1" font-size="35" textLength="101.7" lengthAdjust="spacingAndGlyphs" class="l">Predict</text>
</g>
<g id="chart4">
<path class="ax" d="M959.8 636.8L959.8 1071.9M946.8 1058.9L1670 1058.9M946.8 1016.7L959.8 1016.7M946.8 974.5L959.8 974.5M946.8 932.3L959.8 932.3M946.8 890.1L959.8 890.1M946.8 847.9L959.8 847.9M946.8 805.6L959.8 805.6M946.8 763.4L959.8 763.4M946.8 721.2L959.8 721.2M946.8 679L959.8 679M946.8 636.8L959.8 636.8M973.7 1058.9L973.7 1071.9M987.7 1058.9L987.7 1071.9M1001.6 1058.9L1001.6 1071.9M1015.5 1058.9L1015.5 1071.9M1029.4 1058.9L1029.4 1071.9M1043.4 1058.9L1043.4 1071.9M1057.3 1058.9L1057.3 1071.9M1071.2 1058.9L1071.2 1071.9M1085.1 1058.9L1085.1 1071.9M1099.1 1058.9L1099.1 1071.9M1113 1058.9L1113 1071.9M1126.9 1058.9L1126.9 1071.9M1140.8 1058.9L1140.8 1071.9M1154.8 1058.9L1154.8 1071.9M1168.7 1058.9L1168.7 1071.9M1182.6 1058.9L1182.6 1071.9M1196.5 1058.9L1196.5 1071.9M1210.5 1058.9L1210.5 1071.9M1224.4 1058.9L1224.4 1071.9M1238.3 1058.9L1238.3 1071.9M1252.2 1058.9L1252.2 1071.9M1266.2 1058.9L1266.2 1071.9M1280.1 1058.9L1280.1 1071.9M1294 1058.9L1294 1071.9M1307.9 1058.9L1307.9 1071.9M1321.9 1058.9L1321.9 1071.9M1335.8 1058.9L1335.8 1071.9M1349.7 1058.9L1349.7 1071.9M1363.6 1058.9L1363.6 1071.9M1377.6 1058.9L1377.6 1071.9M1391.5 1058.9L1391.5 1071.9M1405.4 1058.9L1405.4 1071.9M1419.3 1058.9L1419.3 1071.9M1433.3 1058.9L1433.3 1071.9M1447.2 1058.9L1447.2 1071.9M1461.1 1058.9L1461.1 1071.9M1475 1058.9L1475 1071.9M1489 1058.9L1489 1071.9M1502.9 1058.9L1502.9 1071.9M1516.8 1058.9L1516.8 1071.9M1530.7 1058.9L1530.7 1071.9M1544.7 1058.9L1544.7 1071.9M1558.6 1058.9L1558.6 1071.9M1572.5 1058.9L1572.5 1071.9M1586.4 1058.9L1586.4 1071.9M1600.4 1058.9L1600.4 1071.9M1614.3 1058.9L1614.3 1071.9M1628.2 1058.9L1628.2 1071.9M1642.1 1058.9L1642.1 1071.9M1656.1 1058.9L1656.1 1071.9M1670 1058.9L1670 1071.9"/>
<text x="902.1" y="1071.3" font-size="41" textLength="20.5" lengthAdjust="spacingAndGlyphs" class="n">0</text>
<text x="878.8" y="1029.1" font-size="41" textLength="43.8" lengthAdjust="spacingAndGlyphs" class="n">10</text>
<text x="878.8" y="986.7" font-size="41" textLength="43.8" lengthAdjust="spacingAndGlyphs" class="n">20</text>
<text x="878.8" y="944.7" font-size="41" textLength="43.8" lengthAdjust="spacingAndGlyphs" class="n">30</text>
<text x="878.8" y="902.3" font-size="41" textLength="43.8" lengthAdjust="spacingAndGlyphs" class="n">40</text>
<text x="878.8" y="860.1" font-size="41" textLength="43.8" lengthAdjust="spacingAndGlyphs" class="n">50</text>
<text x="878.8" y="817.6" font-size="41" textLength="43.8" lengthAdjust="spacingAndGlyphs" class="n">60</text>
<text x="878.8" y="775" font-size="41" textLength="43.8" lengthAdjust="spacingAndGlyphs" class="n">70</text>
<text x="878.8" y="733.4" font-size="41" textLength="43.8" lengthAdjust="spacingAndGlyphs" class="n">80</text>
<text x="878.8" y="691" font-size="41" textLength="43.8" lengthAdjust="spacingAndGlyphs" class="n">90</text>
<text x="858.3" y="648.4" font-size="41" textLength="65.5" lengthAdjust="spacingAndGlyphs" class="n">100</text>
<text x="945.5" y="1136" font-size="42.5" textLength="42" lengthAdjust="spacingAndGlyphs" class="n">20</text>
<text x="1015.3" y="1136" font-size="42.5" textLength="42" lengthAdjust="spacingAndGlyphs" class="n">25</text>
<text x="1083.5" y="1136" font-size="42.5" textLength="42" lengthAdjust="spacingAndGlyphs" class="n">30</text>
<text x="1153.6" y="1136" font-size="42.5" textLength="42" lengthAdjust="spacingAndGlyphs" class="n">35</text>
<text x="1223.4" y="1136" font-size="42.5" textLength="42" lengthAdjust="spacingAndGlyphs" class="n">40</text>
<text x="1292.3" y="1136" font-size="42.5" textLength="42" lengthAdjust="spacingAndGlyphs" class="n">45</text>
<text x="1363.9" y="1136" font-size="42.5" textLength="42" lengthAdjust="spacingAndGlyphs" class="n">50</text>
<text x="1433.4" y="1136" font-size="42.5" textLength="42" lengthAdjust="spacingAndGlyphs" class="n">55</text>
<text x="1502.3" y="1136" font-size="42.5" textLength="42" lengthAdjust="spacingAndGlyphs" class="n">60</text>
<text x="1570.9" y="1136" font-size="42.5" textLength="42" lengthAdjust="spacingAndGlyphs" class="n">65</text>
<text x="1642.3" y="1136" font-size="42.5" textLength="42" lengthAdjust="spacingAndGlyphs" class="n">70</text>
<text x="926.5" y="621.5" font-size="35.5" textLength="178.5" lengthAdjust="spacingAndGlyphs" class="l">Hen-Day, %</text>
<text x="1250.9" y="1167.5" font-size="35.5" textLength="134.2" lengthAdjust="spacingAndGlyphs" class="l">Time, wk</text>
<text x="1054.8" y="861.7" font-size="41" textLength="523.1" lengthAdjust="spacingAndGlyphs" class="t">Modified Compartmental Model</text>
<polyline class="ln" points="966.8,1047.1 980.7,954.2 994.6,806.5 1008.5,688.3 1022.5,675.6 1036.4,670.1 1050.3,667.6 1064.2,667.2 1078.2,667.2 1092.1,667.2 1106,667.2 1119.9,667.2 1133.9,667.2 1147.8,667.2 1161.7,667.2 1175.6,667.6 1189.6,668.5 1203.5,670.1 1217.4,671.4 1231.3,672.7 1245.3,673.5 1259.2,674.8 1273.1,676.9 1287,678.6 1301,680.7 1314.9,682.8 1328.8,684.9 1342.8,687.9 1356.7,690.8 1370.6,693.4 1384.5,696.3 1398.5,699.7 1412.4,703.1 1426.3,706.4 1440.2,709.4 1454.2,712.8 1468.1,715.7 1482,718.7 1495.9,721.6 1509.9,724.6 1523.8,728 1537.7,730.5 1551.6,733.5 1565.6,737.3 1579.5,741.1 1593.4,744.9 1607.3,749.1 1621.3,753.7 1635.2,758.4 1649.1,762.6 1663,766.8"/>
<g class="dm"><path d="M966.8 1039.5L973.3 1047.1L966.8 1054.7L960.3 1047.1Z"/><path d="M980.7 946.6L987.2 954.2L980.7 961.8L974.2 954.2Z"/><path d="M994.6 798.9L1001.1 806.5L994.6 814.1L988.1 806.5Z"/><path d="M1008.5 680.7L1015 688.3L1008.5 695.9L1002 688.3Z"/><path d="M1022.5 668L1029 675.6L1022.5 683.2L1016 675.6Z"/><path d="M1036.4 662.5L1042.9 670.1L1036.4 677.7L1029.9 670.1Z"/><path d="M1050.3 660L1056.8 667.6L1050.3 675.2L1043.8 667.6Z"/><path d="M1064.2 659.6L1070.7 667.2L1064.2 674.8L1057.7 667.2Z"/><path d="M1078.2 659.6L1084.7 667.2L1078.2 674.8L1071.7 667.2Z"/><path d="M1092.1 659.6L1098.6 667.2L1092.1 674.8L1085.6 667.2Z"/><path d="M1106 659.6L1112.5 667.2L1106 674.8L1099.5 667.2Z"/><path d="M1119.9 659.6L1126.4 667.2L1119.9 674.8L1113.4 667.2Z"/><path d="M1133.9 659.6L1140.4 667.2L1133.9 674.8L1127.4 667.2Z"/><path d="M1147.8 659.6L1154.3 667.2L1147.8 674.8L1141.3 667.2Z"/><path d="M1161.7 659.6L1168.2 667.2L1161.7 674.8L1155.2 667.2Z"/><path d="M1175.6 660L1182.1 667.6L1175.6 675.2L1169.1 667.6Z"/><path d="M1189.6 660.9L1196.1 668.5L1189.6 676.1L1183.1 668.5Z"/><path d="M1203.5 662.5L1210 670.1L1203.5 677.7L1197 670.1Z"/><path d="M1217.4 663.8L1223.9 671.4L1217.4 679L1210.9 671.4Z"/><path d="M1231.3 665.1L1237.8 672.7L1231.3 680.3L1224.8 672.7Z"/><path d="M1245.3 665.9L1251.8 673.5L1245.3 681.1L1238.8 673.5Z"/><path d="M1259.2 667.2L1265.7 674.8L1259.2 682.4L1252.7 674.8Z"/><path d="M1273.1 669.3L1279.6 676.9L1273.1 684.5L1266.6 676.9Z"/><path d="M1287 671L1293.5 678.6L1287 686.2L1280.5 678.6Z"/><path d="M1301 673.1L1307.5 680.7L1301 688.3L1294.5 680.7Z"/><path d="M1314.9 675.2L1321.4 682.8L1314.9 690.4L1308.4 682.8Z"/><path d="M1328.8 677.3L1335.3 684.9L1328.8 692.5L1322.3 684.9Z"/><path d="M1342.8 680.3L1349.3 687.9L1342.8 695.5L1336.3 687.9Z"/><path d="M1356.7 683.2L1363.2 690.8L1356.7 698.4L1350.2 690.8Z"/><path d="M1370.6 685.8L1377.1 693.4L1370.6 701L1364.1 693.4Z"/><path d="M1384.5 688.7L1391 696.3L1384.5 703.9L1378 696.3Z"/><path d="M1398.5 692.1L1405 699.7L1398.5 707.3L1392 699.7Z"/><path d="M1412.4 695.5L1418.9 703.1L1412.4 710.7L1405.9 703.1Z"/><path d="M1426.3 698.8L1432.8 706.4L1426.3 714L1419.8 706.4Z"/><path d="M1440.2 701.8L1446.7 709.4L1440.2 717L1433.7 709.4Z"/><path d="M1454.2 705.2L1460.7 712.8L1454.2 720.4L1447.7 712.8Z"/><path d="M1468.1 708.1L1474.6 715.7L1468.1 723.3L1461.6 715.7Z"/><path d="M1482 711.1L1488.5 718.7L1482 726.3L1475.5 718.7Z"/><path d="M1495.9 714L1502.4 721.6L1495.9 729.2L1489.4 721.6Z"/><path d="M1509.9 717L1516.4 724.6L1509.9 732.2L1503.4 724.6Z"/><path d="M1523.8 720.4L1530.3 728L1523.8 735.6L1517.3 728Z"/><path d="M1537.7 722.9L1544.2 730.5L1537.7 738.1L1531.2 730.5Z"/><path d="M1551.6 725.9L1558.1 733.5L1551.6 741.1L1545.1 733.5Z"/><path d="M1565.6 729.7L1572.1 737.3L1565.6 744.9L1559.1 737.3Z"/><path d="M1579.5 733.5L1586 741.1L1579.5 748.7L1573 741.1Z"/><path d="M1593.4 737.3L1599.9 744.9L1593.4 752.5L1586.9 744.9Z"/><path d="M1607.3 741.5L1613.8 749.1L1607.3 756.7L1600.8 749.1Z"/><path d="M1621.3 746.1L1627.8 753.7L1621.3 761.3L1614.8 753.7Z"/><path d="M1635.2 750.8L1641.7 758.4L1635.2 766L1628.7 758.4Z"/><path d="M1649.1 755L1655.6 762.6L1649.1 770.2L1642.6 762.6Z"/><path d="M1663 759.2L1669.5 766.8L1663 774.4L1656.5 766.8Z"/></g>
<polyline class="ln" points="966.8,1033.6 980.7,958.9 994.6,807.8 1008.5,693.4 1022.5,656.6 1036.4,649.9 1050.3,649.9 1064.2,652.8 1078.2,654.5 1092.1,657.5 1106,659.2 1119.9,661.7 1133.9,664.7 1147.8,666.8 1161.7,669.3 1175.6,671.4 1189.6,674.4 1203.5,676.5 1217.4,679 1231.3,681.1 1245.3,683.7 1259.2,685.3 1273.1,688.3 1287,690.4 1301,692.1 1314.9,695.5 1328.8,697.6 1342.8,699.3 1356.7,701.4 1370.6,703.1 1384.5,705.2 1398.5,707.3 1412.4,709.4 1426.3,712.4 1440.2,714.5 1454.2,716.6 1468.1,718.7 1482,720.8 1495.9,722.5 1509.9,724.2 1523.8,725.9 1537.7,728.4 1551.6,730.1 1565.6,731.8 1579.5,734.3 1593.4,736.4 1607.3,738.5 1621.3,740.2 1635.2,741.9 1649.1,743.6 1663,745.7"/>
<g class="mk"><circle cx="966.8" cy="1033.6" r="8"/><circle cx="980.7" cy="958.9" r="8"/><circle cx="994.6" cy="807.8" r="8"/><circle cx="1008.5" cy="693.4" r="8"/><circle cx="1022.5" cy="656.6" r="8"/><circle cx="1036.4" cy="649.9" r="8"/><circle cx="1050.3" cy="649.9" r="8"/><circle cx="1064.2" cy="652.8" r="8"/><circle cx="1078.2" cy="654.5" r="8"/><circle cx="1092.1" cy="657.5" r="8"/><circle cx="1106" cy="659.2" r="8"/><circle cx="1119.9" cy="661.7" r="8"/><circle cx="1133.9" cy="664.7" r="8"/><circle cx="1147.8" cy="666.8" r="8"/><circle cx="1161.7" cy="669.3" r="8"/><circle cx="1175.6" cy="671.4" r="8"/><circle cx="1189.6" cy="674.4" r="8"/><circle cx="1203.5" cy="676.5" r="8"/><circle cx="1217.4" cy="679" r="8"/><circle cx="1231.3" cy="681.1" r="8"/><circle cx="1245.3" cy="683.7" r="8"/><circle cx="1259.2" cy="685.3" r="8"/><circle cx="1273.1" cy="688.3" r="8"/><circle cx="1287" cy="690.4" r="8"/><circle cx="1301" cy="692.1" r="8"/><circle cx="1314.9" cy="695.5" r="8"/><circle cx="1328.8" cy="697.6" r="8"/><circle cx="1342.8" cy="699.3" r="8"/><circle cx="1356.7" cy="701.4" r="8"/><circle cx="1370.6" cy="703.1" r="8"/><circle cx="1384.5" cy="705.2" r="8"/><circle cx="1398.5" cy="707.3" r="8"/><circle cx="1412.4" cy="709.4" r="8"/><circle cx="1426.3" cy="712.4" r="8"/><circle cx="1440.2" cy="714.5" r="8"/><circle cx="1454.2" cy="716.6" r="8"/><circle cx="1468.1" cy="718.7" r="8"/><circle cx="1482" cy="720.8" r="8"/><circle cx="1495.9" cy="722.5" r="8"/><circle cx="1509.9" cy="724.2" r="8"/><circle cx="1523.8" cy="725.9" r="8"/><circle cx="1537.7" cy="728.4" r="8"/><circle cx="1551.6" cy="730.1" r="8"/><circle cx="1565.6" cy="731.8" r="8"/><circle cx="1579.5" cy="734.3" r="8"/><circle cx="1593.4" cy="736.4" r="8"/><circle cx="1607.3" cy="738.5" r="8"/><circle cx="1621.3" cy="740.2" r="8"/><circle cx="1635.2" cy="741.9" r="8"/><circle cx="1649.1" cy="743.6" r="8"/><circle cx="1663" cy="745.7" r="8"/></g>
<path class="ln" d="M1465.7 1002.9H1568.9 M1465.7 1034.7H1568.9"/>
<g class="dm"><path d="M1486.8 994.9L1493 1002.9L1486.8 1010.9L1480.6 1002.9Z"/><path d="M1516.8 994.9L1523 1002.9L1516.8 1010.9L1510.6 1002.9Z"/><path d="M1546.4 994.9L1552.6 1002.9L1546.4 1010.9L1540.2 1002.9Z"/></g><g class="mk"><circle cx="1486.8" cy="1034.7" r="8.2"/><circle cx="1516.8" cy="1034.7" r="8.2"/><circle cx="1546.4" cy="1034.7" r="8.2"/></g>
<text x="1579.5" y="1010" font-size="35" textLength="93.5" lengthAdjust="spacingAndGlyphs" class="l">Actual</text>
<text x="1573" y="1043.1" font-size="35" textLength="102.4" lengthAdjust="spacingAndGlyphs" class="l">Predict</text>
</g>
</g>
</svg>
</body>
</html>
